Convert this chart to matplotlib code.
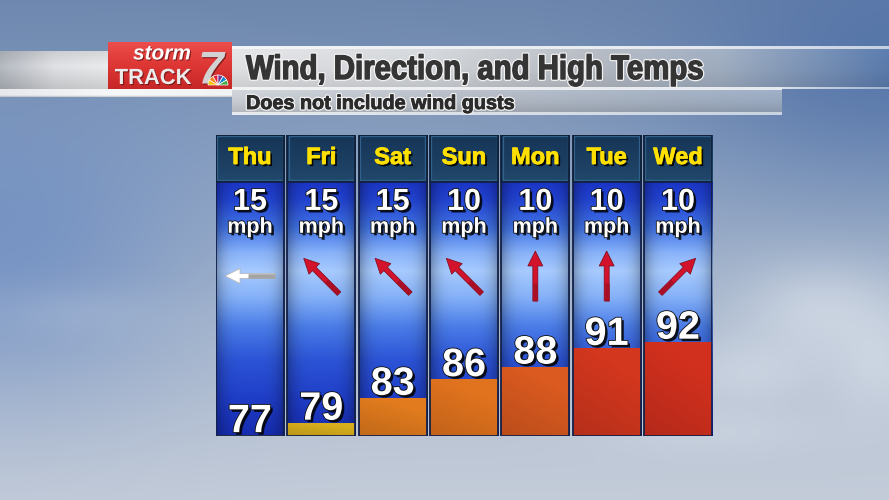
import numpy as np
import matplotlib
matplotlib.use("Agg")
import matplotlib.pyplot as plt
from matplotlib.patches import Rectangle, FancyArrow, Wedge
from matplotlib.colors import LinearSegmentedColormap, to_rgb
from matplotlib.transforms import blended_transform_factory, Affine2D
import matplotlib.patheffects as pe
from matplotlib import font_manager

# ---------------- data ----------------
days = ["Thu", "Fri", "Sat", "Sun", "Mon", "Tue", "Wed"]
wind_mph = [15, 15, 15, 10, 10, 10, 10]
wind_from = ["E", "SE", "SE", "SE", "S", "S", "SW"]
high_temps = [77, 79, 83, 86, 88, 91, 92]
title_text = "Wind, Direction, and High Temps"
subtitle_text = "Does not include wind gusts"
logo_top = "storm"
logo_bottom = "TRACK"
logo_num = "7"

# ---------------- style ----------------
BEARING = {"N": 0, "NE": 45, "E": 90, "SE": 135, "S": 180,
           "SW": 225, "W": 270, "NW": 315}
ARROW_COLORS = ["white", "#d3122b", "#d3122b", "#d3122b", "#d3122b", "#d3122b", "#d3122b"]

installed = {f.name for f in font_manager.fontManager.ttflist}
SANS = "Liberation Sans" if "Liberation Sans" in installed else "DejaVu Sans"

W, H = 889, 500
fig = plt.figure(figsize=(W / 100, H / 100), dpi=100)


class Squeeze(pe.AbstractPathEffect):
    """Draw the text horizontally condensed about a pixel x position."""

    def __init__(self, x0, sx, inner):
        super().__init__()
        self.x0, self.sx, self.inner = x0, sx, inner

    def draw_path(self, renderer, gc, tpath, affine, rgbFace=None):
        a = affine + Affine2D().translate(-self.x0, 0).scale(self.sx, 1).translate(self.x0, 0)
        for eff in self.inner:
            eff.draw_path(renderer, gc, tpath, a, rgbFace)


def ramp(stops, t):
    pos = np.array([p for p, _ in stops])
    cols = np.array([to_rgb(c) for _, c in stops])
    t = np.asarray(t, dtype=float)
    return np.stack([np.interp(t, pos, cols[:, k]) for k in range(3)], axis=-1)


def blend(img, w, color):
    c = np.array(to_rgb(color))
    return img * (1 - w[..., None]) + c * w[..., None]


# ---------------- background (pixel coordinates) ----------------
bg = fig.add_axes([0, 0, 1, 1], zorder=0)
bg.axis("off")

yy, xx = np.mgrid[0:H:2, 0:W:2]
u = xx / W
v = yy / H
sky = ramp([(0, "#6f88ae"), (0.3, "#8aa0c0"), (0.65, "#adbbcf"), (1, "#c4ccd9")], v)
sky = blend(sky, 0.6 * np.exp(-(u / 0.22) ** 2) * np.exp(-((v - 0.5) / 0.3) ** 2), "#5f83c0")
sky = blend(sky, 0.7 * np.exp(-((u - 1) / 0.25) ** 2) * np.exp(-((v - 0.12) / 0.25) ** 2), "#4a6ca5")
sky = blend(sky, 0.25 * np.exp(-((u - 0.5) / 0.3) ** 2) * np.exp(-((v - 0.02) / 0.1) ** 2), "#6a83aa")
for cx, cy, sx, sy, a in [(0.92, 0.62, 0.09, 0.10, 0.55), (0.84, 0.74, 0.08, 0.07, 0.45),
                          (0.99, 0.72, 0.06, 0.12, 0.5), (0.80, 0.86, 0.14, 0.05, 0.3),
                          (0.42, 0.52, 0.06, 0.04, 0.2), (0.08, 0.62, 0.10, 0.05, 0.15)]:
    sky = blend(sky, a * np.exp(-(((u - cx) / sx) ** 2 + ((v - cy) / sy) ** 2)), "#e0e6ee")
bg.imshow(sky, extent=(0, W, H, 0), aspect="auto", zorder=0, interpolation="bilinear")


def band(x0, x1, y0, y1, hstops, vstops, z=1):
    nx, ny = max(int(x1 - x0), 2), max(int(y1 - y0), 2)
    hx = ramp(hstops, np.linspace(0, 1, nx))
    vf = np.interp(np.linspace(0, 1, ny), [p for p, _ in vstops], [f for _, f in vstops])
    arr = np.clip(hx[None, :, :] * vf[:, None, None], 0, 1)
    bg.imshow(arr, extent=(x0, x1, y1, y0), aspect="auto", zorder=z, interpolation="bilinear")


band(0, 110, 51, 89, [(0, "#aeb3ba"), (0.5, "#d8d9dc"), (1, "#e2e3e5")],
     [(0, 0.95), (0.4, 1.04), (1, 0.9)])
band(232, W, 49, 88, [(0, "#dfe0e2"), (0.3, "#d0d3d7"), (0.55, "#b3b8c0"), (0.75, "#9dabbe"), (1, "#5a7aab")],
     [(0, 1.03), (0.5, 1.0), (1, 0.92)])
band(232, W, 46.5, 49.5, [(0, "#f4f5f6"), (0.7, "#e6eaf0"), (1, "#c4d0e0")], [(0, 1), (1, 1)])
band(0, 232, 89, 97, [(0, "#e6e8ec"), (0.5, "#f6f7f8"), (1, "#f2f3f5")], [(0, 1), (0.8, 1), (1, 0.85)])
band(232, 782, 88, 90.5, [(0, "#f2f3f4"), (1, "#e6e9ee")], [(0, 1), (1, 1)])
band(782, W, 88, 89.5, [(0, "#d8e0ea"), (1, "#9fb4d0")], [(0, 1), (1, 1)])
band(232, 782, 90.5, 113, [(0, "#c8ccd2"), (0.4, "#b3b9c2"), (0.8, "#a0acbd"), (1, "#98a8bf")],
     [(0, 1.05), (0.5, 1.0), (1, 0.9)])
band(232, 782, 113, 115.5, [(0, "#e8ebef"), (1, "#c9d3e0")], [(0, 1), (1, 1)])

# logo
logo = ramp([(0, "#ec4d4a"), (0.5, "#dd3634"), (1, "#c72727")], np.linspace(0, 1, 47))
logo = np.repeat(logo[:, None, :], 124, axis=1)
bg.imshow(logo, extent=(108, 232, 89, 42), aspect="auto", zorder=2)
shadow_small = [pe.SimplePatchShadow(offset=(0.8, -0.8), shadow_rgbFace="#5a1010", alpha=0.7), pe.Normal()]
t_storm = bg.text(162, 59.5, logo_top, family=SANS, weight="bold", style="italic", fontsize=15,
                  color="white", ha="center", va="baseline", zorder=3, path_effects=shadow_small)
t_track = bg.text(153, 84, logo_bottom, family=SANS, weight="bold", fontsize=16,
                  color="#ebebeb", ha="center", va="baseline", zorder=3, path_effects=shadow_small)
bg.text(211, 83.5, logo_num, family=SANS, weight="bold", style="italic", fontsize=33,
        color="#d2d2d2", ha="center", va="baseline", zorder=3, path_effects=shadow_small)
feathers = ["#f6c200", "#f58220", "#e2213b", "#6d3a96", "#0c89cf", "#48ae4a"]
for k, col in enumerate(feathers):
    bg.add_patch(Wedge((218, 85), 10, 180 + 30 * k, 210 + 30 * k, fc=col, ec="white", lw=0.5, zorder=4))


def heavy(color, extra):
    return [pe.Stroke(linewidth=extra + 1.8, foreground="#f2f2f2"),
            pe.Stroke(linewidth=extra, foreground=color), pe.Normal()]


t_title = bg.text(246, 79, title_text, family=SANS, weight="bold", fontsize=24.5, color="#353535",
                  ha="left", va="baseline", zorder=3)
t_sub = bg.text(246, 109, subtitle_text, family=SANS, weight="bold", fontsize=14.2, color="#2b2b2b",
                ha="left", va="baseline", zorder=3)

bg.set_xlim(0, W)
bg.set_ylim(H, 0)

# ---------------- forecast columns ----------------
x = np.arange(len(days))
PX_PER_DEG = 6.23
BASE = 76.87
TOP = BASE + 254 / PX_PER_DEG
CW = 68 / 71.33
XLIM = (-CW / 2, x[-1] + CW / 2)

ax = fig.add_axes([216 / W, (H - 436) / H, 496 / W, 254 / H], zorder=2)
ax.set_facecolor("none")
ax.axis("off")

ny, nx = 254, 68
col_v = ramp([(0, "#1b35c6"), (0.07, "#2244d2"), (0.18, "#4274e6"), (0.28, "#8ab4fa"),
              (0.35, "#a8cbff"), (0.45, "#86b2f8"), (0.57, "#4a7ce8"), (0.70, "#2c54d6"),
              (0.85, "#1f3ec8"), (1.0, "#162bae")], np.linspace(0, 1, ny))
vig = 1 - 0.3 * np.abs(np.linspace(-1, 1, nx)) ** 4
col_img = np.clip(col_v[:, None, :] * vig[None, :, None], 0, 1)
for xi in x:
    ax.imshow(col_img, extent=(xi - CW / 2, xi + CW / 2, BASE, TOP), aspect="auto", zorder=0,
              interpolation="bilinear")

tcmap = LinearSegmentedColormap.from_list(
    "temps", [(0.0, "#c8b428"), (3 / 16, "#d8ae1c"), (6 / 16, "#df7a1f"), (9 / 16, "#e47c1c"),
              (11 / 16, "#de6a20"), (13.5 / 16, "#d4431f"), (1.0, "#d2301e")])
temps = np.array(high_temps, dtype=float)
bars = ax.bar(x, temps - BASE, bottom=BASE, width=CW, color=tcmap((temps - 76) / 16),
              linewidth=0, zorder=2)
shade = np.zeros((64, 64, 4))
sv, su = np.mgrid[0:1:64j, 0:1:64j]
shade[..., 3] = 0.16 * np.clip(sv * 0.8 + (1 - su) * 0.4 - 0.3, 0, 1)
for b in bars:
    im = ax.imshow(shade, extent=(b.get_x(), b.get_x() + b.get_width(), b.get_y(), b.get_y() + b.get_height()),
                   aspect="auto", zorder=2.5, interpolation="bilinear")
    im.set_clip_path(b)

for xi in x:
    ax.add_patch(Rectangle((xi - CW / 2, BASE), CW, TOP - BASE, fill=False, ec="#142149", lw=1.3, zorder=4))

shadow = [pe.SimplePatchShadow(offset=(1.8, -1.8), shadow_rgbFace="black", alpha=0.85),
          pe.Stroke(linewidth=1.2, foreground="#101010"), pe.Normal()]
for xi, t in zip(x, high_temps):
    ax.annotate(f"{t}", (xi, t), xytext=(0, 2.2), textcoords="offset points", ha="center",
                va="baseline", fontsize=28.5, weight="bold", family=SANS, color="white",
                path_effects=shadow, zorder=5)

bt = blended_transform_factory(ax.transData, ax.transAxes)
for xi, w in zip(x, wind_mph):
    ax.text(xi, 0.890, f"{w}", transform=bt, ha="center", va="baseline", fontsize=22,
            weight="bold", family=SANS, color="white", path_effects=shadow, zorder=5)
    ax.text(xi, 0.800, "mph", transform=bt, ha="center", va="baseline", fontsize=15.5,
            weight="bold", family=SANS, color="white", path_effects=shadow, zorder=5)

ax.set_xlim(*XLIM)
ax.set_ylim(BASE, TOP)

# header cells
axh = fig.add_axes([216 / W, (H - 182) / H, 496 / W, 47 / H], zorder=2)
axh.set_facecolor("none")
axh.axis("off")
hdr = ramp([(0, "#163657"), (0.6, "#1c3f62"), (1, "#21486b")], np.linspace(0, 1, 47))
hdr = np.repeat(hdr[:, None, :], 8, axis=1)
day_fx = [pe.SimplePatchShadow(offset=(1.5, -1.5), shadow_rgbFace="black", alpha=0.9),
          pe.Stroke(linewidth=0.6, foreground="#ffe000"), pe.Normal()]
for xi, d in zip(x, days):
    axh.imshow(hdr, extent=(xi - CW / 2, xi + CW / 2, 0, 1), aspect="auto", zorder=0)
    axh.add_patch(Rectangle((xi - CW / 2 + 0.02, 0.04), CW - 0.04, 0.93, fill=False,
                            ec="#30618a", lw=0.9, zorder=1))
    axh.add_patch(Rectangle((xi - CW / 2, 0), CW, 1, fill=False, ec="#0f1f38", lw=1.3, zorder=2))
    axh.text(xi, 0.383, d, ha="center", va="baseline", fontsize=17, weight="bold", family=SANS,
             color="#ffe000", path_effects=day_fx, zorder=3)
axh.set_xlim(*XLIM)
axh.set_ylim(0, 1)

# ---------------- wind arrows (overlay in pixel coordinates) ----------------
ov = fig.add_axes([0, 0, 1, 1], zorder=3)
ov.set_facecolor("none")
ov.axis("off")
ov.set_xlim(0, W)
ov.set_ylim(H, 0)
L = 50
for xi, d, col in zip(x, wind_from, ARROW_COLORS):
    cx = ax.transData.transform((xi, BASE))[0]
    cy = H - ax.transAxes.transform((0, 0.63))[1]
    toward = np.deg2rad(BEARING[d] + 180)
    dx, dy = np.sin(toward) * L, -np.cos(toward) * L
    x0, y0 = cx - dx / 2, cy - dy / 2
    ec = "#7a0a18" if col != "white" else "#b0b0b0"
    ov.add_patch(FancyArrow(x0, y0, dx, dy, width=5, head_width=15, head_length=15,
                            length_includes_head=True, fc=col, ec=ec, lw=0.5, zorder=2))
    if col == "white":
        ov.plot([x0, x0 + dx * 0.55], [y0, y0 + dy * 0.55], color="#a4a4a4", lw=3.3,
                solid_capstyle="butt", zorder=3)
    else:
        ov.plot([x0, x0 + dx * 0.35], [y0, y0 + dy * 0.35], color="#a10f24", lw=3.3,
                solid_capstyle="butt", zorder=3, alpha=0.8)

# condense header texts horizontally to the reference widths (text stays text)
fig.canvas.draw()
r = fig.canvas.get_renderer()
for t, target, anchor, extra, col in [(t_title, 457, 246, 1.0, "#353535"),
                                       (t_sub, 269, 246, 0.6, "#2b2b2b")]:
    w = t.get_window_extent(r).width
    sx = min(target / w, 1.0)
    t.set_path_effects([Squeeze(anchor, sx, heavy(col, extra))])
    if target / w > 1.0:
        t.set_fontsize(t.get_fontsize() * target / w)
for t, target in [(t_storm, 58), (t_track, 77)]:
    w = t.get_window_extent(r).width
    t.set_fontsize(t.get_fontsize() * target / w)

fig.savefig("out.png", dpi=100)
